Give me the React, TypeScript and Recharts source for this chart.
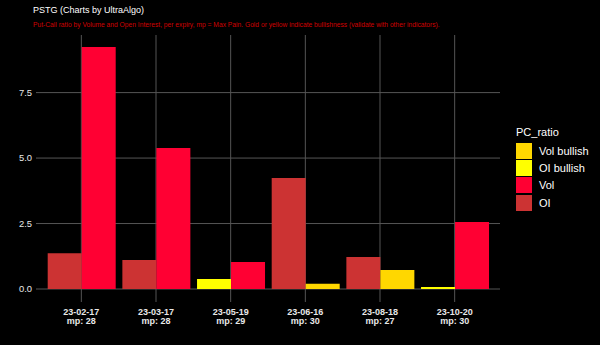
import { BarChart, Bar, XAxis, YAxis, CartesianGrid, Cell } from "recharts";

const expiries = ["23-02-17", "23-03-17", "23-05-19", "23-06-16", "23-08-18", "23-10-20"];
const maxPain = [28, 28, 29, 30, 27, 30];
const oiRatio = [1.37, 1.11, 0.38, 4.24, 1.22, 0.08];
const volRatio = [9.24, 5.38, 1.03, 0.2, 0.73, 2.56];
const oiBullish = [false, false, true, false, false, true];
const volBullish = [false, false, false, true, true, false];
const yTicks = [0, 2.5, 5, 7.5];

const COLORS = {
  volBullish: "#FFD700",
  oiBullish: "#FFFF00",
  vol: "#FF0033",
  oi: "#CC3333",
};

const legendItems = [
  { label: "Vol bullish", color: COLORS.volBullish },
  { label: "OI bullish", color: COLORS.oiBullish },
  { label: "Vol", color: COLORS.vol },
  { label: "OI", color: COLORS.oi },
];

const data = expiries.map((e, i) => ({
  name: e,
  mp: maxPain[i],
  oi: oiRatio[i],
  vol: volRatio[i],
}));

const FONT = "'Liberation Sans', Arial, sans-serif";
const GRID = "#555555";

function ExpiryTick({ x, y, payload, index }: any) {
  return (
    <text x={x} y={y} textAnchor="middle" fill="#e8e8e8" fontSize={9} fontWeight="bold" fontFamily={FONT}>
      <tspan x={x} dy={11}>{payload.value}</tspan>
      <tspan x={x} dy={9.3}>mp: {maxPain[index]}</tspan>
    </text>
  );
}

export default function App() {
  return (
    <div style={{ position: "absolute", left: 0, top: 0, width: 600, height: 345, background: "#000", fontFamily: FONT }}>
      <div style={{ position: "absolute", left: 33, top: 5, color: "#ffffff", fontSize: 9, lineHeight: "11px" }}>
        PSTG (Charts by UltraAlgo)
      </div>
      <div style={{ position: "absolute", left: 33, top: 21, color: "#d00000", fontSize: 6.7, lineHeight: "8px", whiteSpace: "nowrap" }}>
        Put-Call ratio by Volume and Open Interest, per expiry, mp = Max Pain. Gold or yellow indicate bullishness (validate with other indicators).
      </div>
      <BarChart
        width={600}
        height={345}
        data={data}
        margin={{ top: 35, right: 100, bottom: 0, left: 0 }}
        barCategoryGap={3.7}
        barGap={0}
      >
        <CartesianGrid stroke={GRID} strokeWidth={1} horizontal vertical syncWithTicks />
        <XAxis
          dataKey="name"
          height={56}
          padding={{ left: 8, right: 8 }}
          axisLine={false}
          tickLine={{ stroke: GRID }}
          tickSize={13}
          tickMargin={2}
          interval={0}
          tick={<ExpiryTick />}
        />
        <YAxis
          type="number"
          domain={[0, 9.7]}
          ticks={yTicks}
          width={36}
          axisLine={false}
          tickLine={false}
          tickSize={0}
          tickMargin={4}
          tickFormatter={(v: number) => v.toFixed(1)}
          tick={{ fill: "#e8e8e8", fontSize: 9.4, fontFamily: FONT }}
        />
        <Bar dataKey="oi" isAnimationActive={false}>
          {data.map((d, i) => (
            <Cell key={d.name} fill={oiBullish[i] ? COLORS.oiBullish : COLORS.oi} />
          ))}
        </Bar>
        <Bar dataKey="vol" isAnimationActive={false}>
          {data.map((d, i) => (
            <Cell key={d.name} fill={volBullish[i] ? COLORS.volBullish : COLORS.vol} />
          ))}
        </Bar>
      </BarChart>
      <div style={{ position: "absolute", left: 516, top: 126, color: "#ffffff", fontSize: 11 }}>
        <div style={{ lineHeight: "13px", marginBottom: 3 }}>PC_ratio</div>
        {legendItems.map((it) => (
          <div key={it.label} style={{ display: "flex", alignItems: "center", height: 17.3 }}>
            <span style={{ width: 16, height: 16, background: it.color, marginRight: 7 }} />
            <span>{it.label}</span>
          </div>
        ))}
      </div>
    </div>
  );
}
